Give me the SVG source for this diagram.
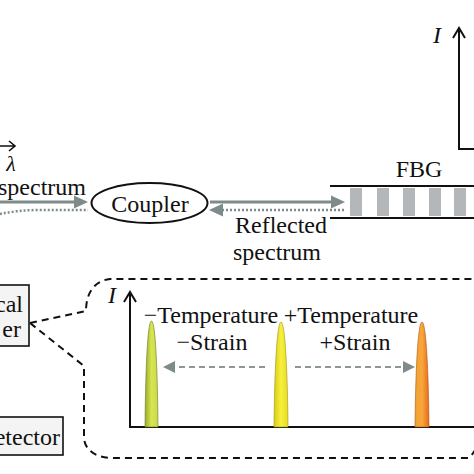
<svg xmlns="http://www.w3.org/2000/svg" width="474" height="474" viewBox="0 0 474 474">
<style>
text{font-family:"Liberation Serif","Times New Roman",serif;font-size:24px;fill:#111}
.it{font-style:italic}
.ax{fill:none;stroke:#111;stroke-width:2}
.box{fill:#f4f4f4;stroke:#111;stroke-width:1.6}
.gs{fill:none;stroke:#7f8b8b;stroke-width:3}
.gd{fill:none;stroke:#7f8b8b;stroke-width:2.5;stroke-dasharray:2 2}
.ga{fill:#7f8b8b}
.gdash{fill:none;stroke:#8b9595;stroke-width:2;stroke-dasharray:6 4}
.call{fill:none;stroke:#111;stroke-width:2;stroke-dasharray:7 5}
.bar{fill:#b4b7b9}
</style>
<defs>
<linearGradient id="g1" x1="0" y1="0" x2="1" y2="0">
<stop offset="0" stop-color="#9aab2c"/><stop offset="0.5" stop-color="#d7e650"/><stop offset="1" stop-color="#c9d94a"/>
</linearGradient>
<linearGradient id="g2" x1="0" y1="0" x2="1" y2="0">
<stop offset="0" stop-color="#d8cc10"/><stop offset="0.5" stop-color="#f8f040"/><stop offset="1" stop-color="#e8dc20"/>
</linearGradient>
<linearGradient id="g3" x1="0" y1="0" x2="1" y2="0">
<stop offset="0" stop-color="#f0a030"/><stop offset="0.5" stop-color="#f8a83a"/><stop offset="1" stop-color="#e86a1c"/>
</linearGradient>
</defs>

<g id="top-axis">
<path class="ax" d="M474,149 H459 V28"/>
<path class="ax" d="M453,38 L459,28 L465,38"/>
<text class="it" x="437" y="43" text-anchor="middle">I</text>
</g>

<g id="source-label">
<path fill="none" stroke="#111" stroke-width="1.6" d="M0,146 H15 M9,141 L15,146 L9,151"/>
<text class="it" x="11" y="171" text-anchor="middle" style="font-size:22px">λ</text>
<text x="86" y="195" text-anchor="end">spectrum</text>
</g>

<g id="coupler">
<ellipse cx="149.5" cy="203" rx="58" ry="20" fill="#fff" stroke="#111" stroke-width="2"/>
<text x="150" y="212" text-anchor="middle">Coupler</text>
</g>

<g id="fbg">
<text x="419" y="177" text-anchor="middle">FBG</text>
<rect class="bar" x="350" y="188" width="12" height="28"/>
<rect class="bar" x="377" y="188" width="12" height="28"/>
<rect class="bar" x="403" y="188" width="12" height="28"/>
<rect class="bar" x="429" y="188" width="12" height="28"/>
<rect class="bar" x="454" y="188" width="12" height="28"/>
<path stroke="#111" stroke-width="2" d="M330,186 H474 M330,218 H474"/>
</g>

<g id="reflected-label">
<text x="281" y="233" text-anchor="middle">Reflected</text>
<text x="277" y="260" text-anchor="middle">spectrum</text>
</g>

<g id="filter">
<rect class="box" x="-10" y="285" width="39" height="61"/>
<text x="23" y="312" text-anchor="end">cal</text>
<text x="21" y="337" text-anchor="end">er</text>
</g>

<g id="detector">
<rect class="box" x="-10" y="417" width="73" height="38"/>
<text x="60" y="445" text-anchor="end">etector</text>
</g>

<g id="connectors">
<path class="gs" d="M0,202 H76"/>
<polygon class="ga" points="74,195.5 88,202 74,208.5"/>
<path class="gd" d="M0,214 Q18,210 40,210 H88"/>
<path class="gs" d="M210,202 H333"/>
<polygon class="ga" points="331,195.5 345,202 331,208.5"/>
<path class="gd" d="M344,210 H221"/>
<polygon class="ga" points="223,203.5 209,210 223,216.5"/>
<path class="call" d="M30,323 L86,311 C86,296 92,281 110,279 H474"/>
<path class="call" d="M30,323 L84,366 V437 C84,449 95,458 112,458 H468 C471,457 473,453 476,449"/>
</g>

<g id="spectrum-plot">
<path class="ax" d="M474,427 H130 V292"/>
<path class="ax" d="M124,302 L130,292 L136,302"/>
<text class="it" x="112" y="303" text-anchor="middle">I</text>
<path fill="url(#g1)" stroke="#6a7420" stroke-width="0.6" d="M145,427 C145.5,370 147.5,321 151.5,321 C155.5,321 157.5,370 158,427 Z"/>
<path fill="url(#g2)" stroke="#a09010" stroke-width="0.6" d="M274,427 C274.5,370 277,322 281,322 C285,322 287.5,370 288,427 Z"/>
<path fill="url(#g3)" stroke="#b05010" stroke-width="0.6" d="M415,427 C415.5,370 418,322 422,322 C426,322 428.5,370 429,427 Z"/>
<text x="211" y="323" text-anchor="middle">−Temperature</text>
<text x="212" y="350" text-anchor="middle">−Strain</text>
<text x="351" y="323" text-anchor="middle">+Temperature</text>
<text x="355" y="350" text-anchor="middle">+Strain</text>
<path class="gdash" d="M265,367 H173"/>
<polygon class="ga" points="175,361 163,367 175,373"/>
<path class="gdash" d="M295,367 H405"/>
<polygon class="ga" points="403,361 415,367 403,373"/>
</g>
</svg>
